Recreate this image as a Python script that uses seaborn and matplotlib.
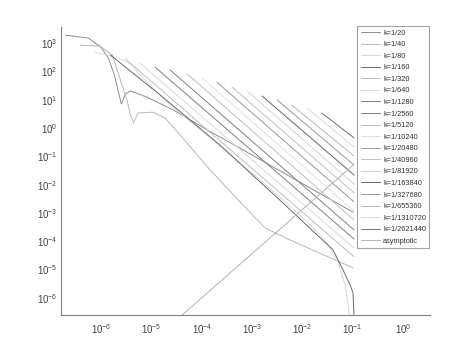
import matplotlib
matplotlib.use('Agg')
import matplotlib.pyplot as plt
import numpy as np
import seaborn as sns

# curve points, stored as log10 values (decades)
k_labels = ['k=1/20', 'k=1/40', 'k=1/80', 'k=1/160', 'k=1/320', 'k=1/640',
            'k=1/1280', 'k=1/2560', 'k=1/5120', 'k=1/10240', 'k=1/20480',
            'k=1/40960', 'k=1/81920', 'k=1/163840', 'k=1/327680',
            'k=1/655360', 'k=1/1310720', 'k=1/2621440']

gray_levels = [0.55, 0.72, 0.85, 0.42, 0.75, 0.86, 0.5, 0.5, 0.75, 0.88,
               0.6, 0.76, 0.83, 0.4, 0.6, 0.72, 0.86, 0.45]

# the first few step sizes have curves with a dip or a knee
k20_lx = [-6.72, -6.26, -6.01, -5.86, -5.74, -5.66, -5.60, -5.52, -5.42,
          -5.09, -4.57, -3.89, -3.24, -2.05, -0.99]
k20_ly = [3.28, 3.18, 2.86, 2.47, 1.87, 1.27, 0.85, 1.20, 1.31,
          1.09, 0.64, -0.07, -0.71, -1.91, -2.97]

k40_lx = [-6.42, -6.02, -5.78, -5.62, -5.49, -5.42, -5.36, -5.27, -4.97,
          -4.73, -4.43, -3.87, -3.24, -2.74, -2.25, -0.99]
k40_ly = [2.93, 2.89, 2.58, 1.69, 0.99, 0.46, 0.18, 0.53, 0.56,
          0.35, -0.25, -1.41, -2.61, -3.53, -3.95, -4.94]

k80_lx = [-6.12, -5.66, -5.42, -5.13, -4.63, -3.83, -2.84, -2.05, -1.55,
          -1.29, -1.15, -1.09, -1.07]
k80_ly = [2.68, 2.47, 2.26, 1.69, 0.81, -0.35, -1.83, -3.07, -3.95,
          -4.73, -5.54, -6.18, -6.70]

k160_lx = [-5.82, -4.83, -3.64, -2.45, -1.39, -1.19, -1.05, -0.99, -0.97]
k160_ly = [2.58, 1.17, -0.60, -2.54, -4.30, -5.01, -5.54, -5.82, -6.70]

# the rest are close to straight lines in log-log: start and end point
bundle_start_lx = [-5.52, -5.23, -4.93, -4.63, -4.29, -3.99, -3.70, -3.40,
                   -3.10, -2.80, -2.50, -2.21, -1.91, -1.61]
bundle_start_ly = [2.44, 2.29, 2.15, 2.05, 1.91, 1.76, 1.62, 1.45,
                   1.31, 1.13, 0.99, 0.81, 0.71, 0.53]
bundle_end_lx = -0.97
bundle_end_ly = [-4.55, -4.24, -3.92, -3.60, -3.25, -2.93, -2.61, -2.29,
                 -1.98, -1.66, -1.31, -0.99, -0.67, -0.35]

asym_lx = [-4.50, -0.99]
asym_ly = [-6.77, -1.31]

x_ticks = [1e-6, 1e-5, 1e-4, 1e-3, 1e-2, 1e-1, 1e0]
y_ticks = [1e-6, 1e-5, 1e-4, 1e-3, 1e-2, 1e-1, 1e0, 1e1, 1e2, 1e3]

curves = [(k20_lx, k20_ly), (k40_lx, k40_ly), (k80_lx, k80_ly),
          (k160_lx, k160_ly)]
for sx, sy, ey in zip(bundle_start_lx, bundle_start_ly, bundle_end_ly):
    curves.append(([sx, bundle_end_lx], [sy, ey]))

sns.set_style('white')
plt.rcParams['font.family'] = ['Liberation Sans', 'DejaVu Sans']

fig = plt.figure(figsize=(4.74, 3.55), dpi=100)
ax = fig.add_axes([0.129, 0.113, 0.778, 0.811])

for (lx, ly), lab, g in zip(curves, k_labels, gray_levels):
    sns.lineplot(x=10.0 ** np.array(lx), y=10.0 ** np.array(ly), ax=ax,
                 color=str(g), lw=0.7, label=lab, sort=False, estimator=None)
sns.lineplot(x=10.0 ** np.array(asym_lx), y=10.0 ** np.array(asym_ly), ax=ax,
             color='0.7', lw=0.7, label='asymptotic', sort=False, estimator=None)

ax.set_xscale('log')
ax.set_yscale('log')
ax.set_xlim(10 ** -6.8, 10 ** 0.54)
ax.set_ylim(10 ** -6.6, 10 ** 3.57)
ax.set_xticks(x_ticks)
ax.set_yticks(y_ticks)
ax.minorticks_off()

axis_gray = '0.5'
for side in ['top', 'right']:
    ax.spines[side].set_visible(False)
for side in ['left', 'bottom']:
    ax.spines[side].set_color(axis_gray)
    ax.spines[side].set_linewidth(0.8)
ax.tick_params(direction='in', length=3.5, width=0.6, color=axis_gray,
               labelsize=7, labelcolor='0.25')
ax.tick_params(axis='x', pad=5)
ax.tick_params(axis='y', pad=2.5)

leg = ax.legend(loc='upper left', bbox_to_anchor=(0.803, 1.003), fontsize=5.3,
                frameon=True, fancybox=False, borderpad=0.45, labelspacing=0.6,
                handlelength=2.6, handletextpad=0.45, borderaxespad=0)
leg.get_frame().set_edgecolor('0.55')
leg.get_frame().set_linewidth(0.8)
for t in leg.get_texts():
    t.set_color('0.2')

plt.savefig('out.png', dpi=100)
plt.close()
